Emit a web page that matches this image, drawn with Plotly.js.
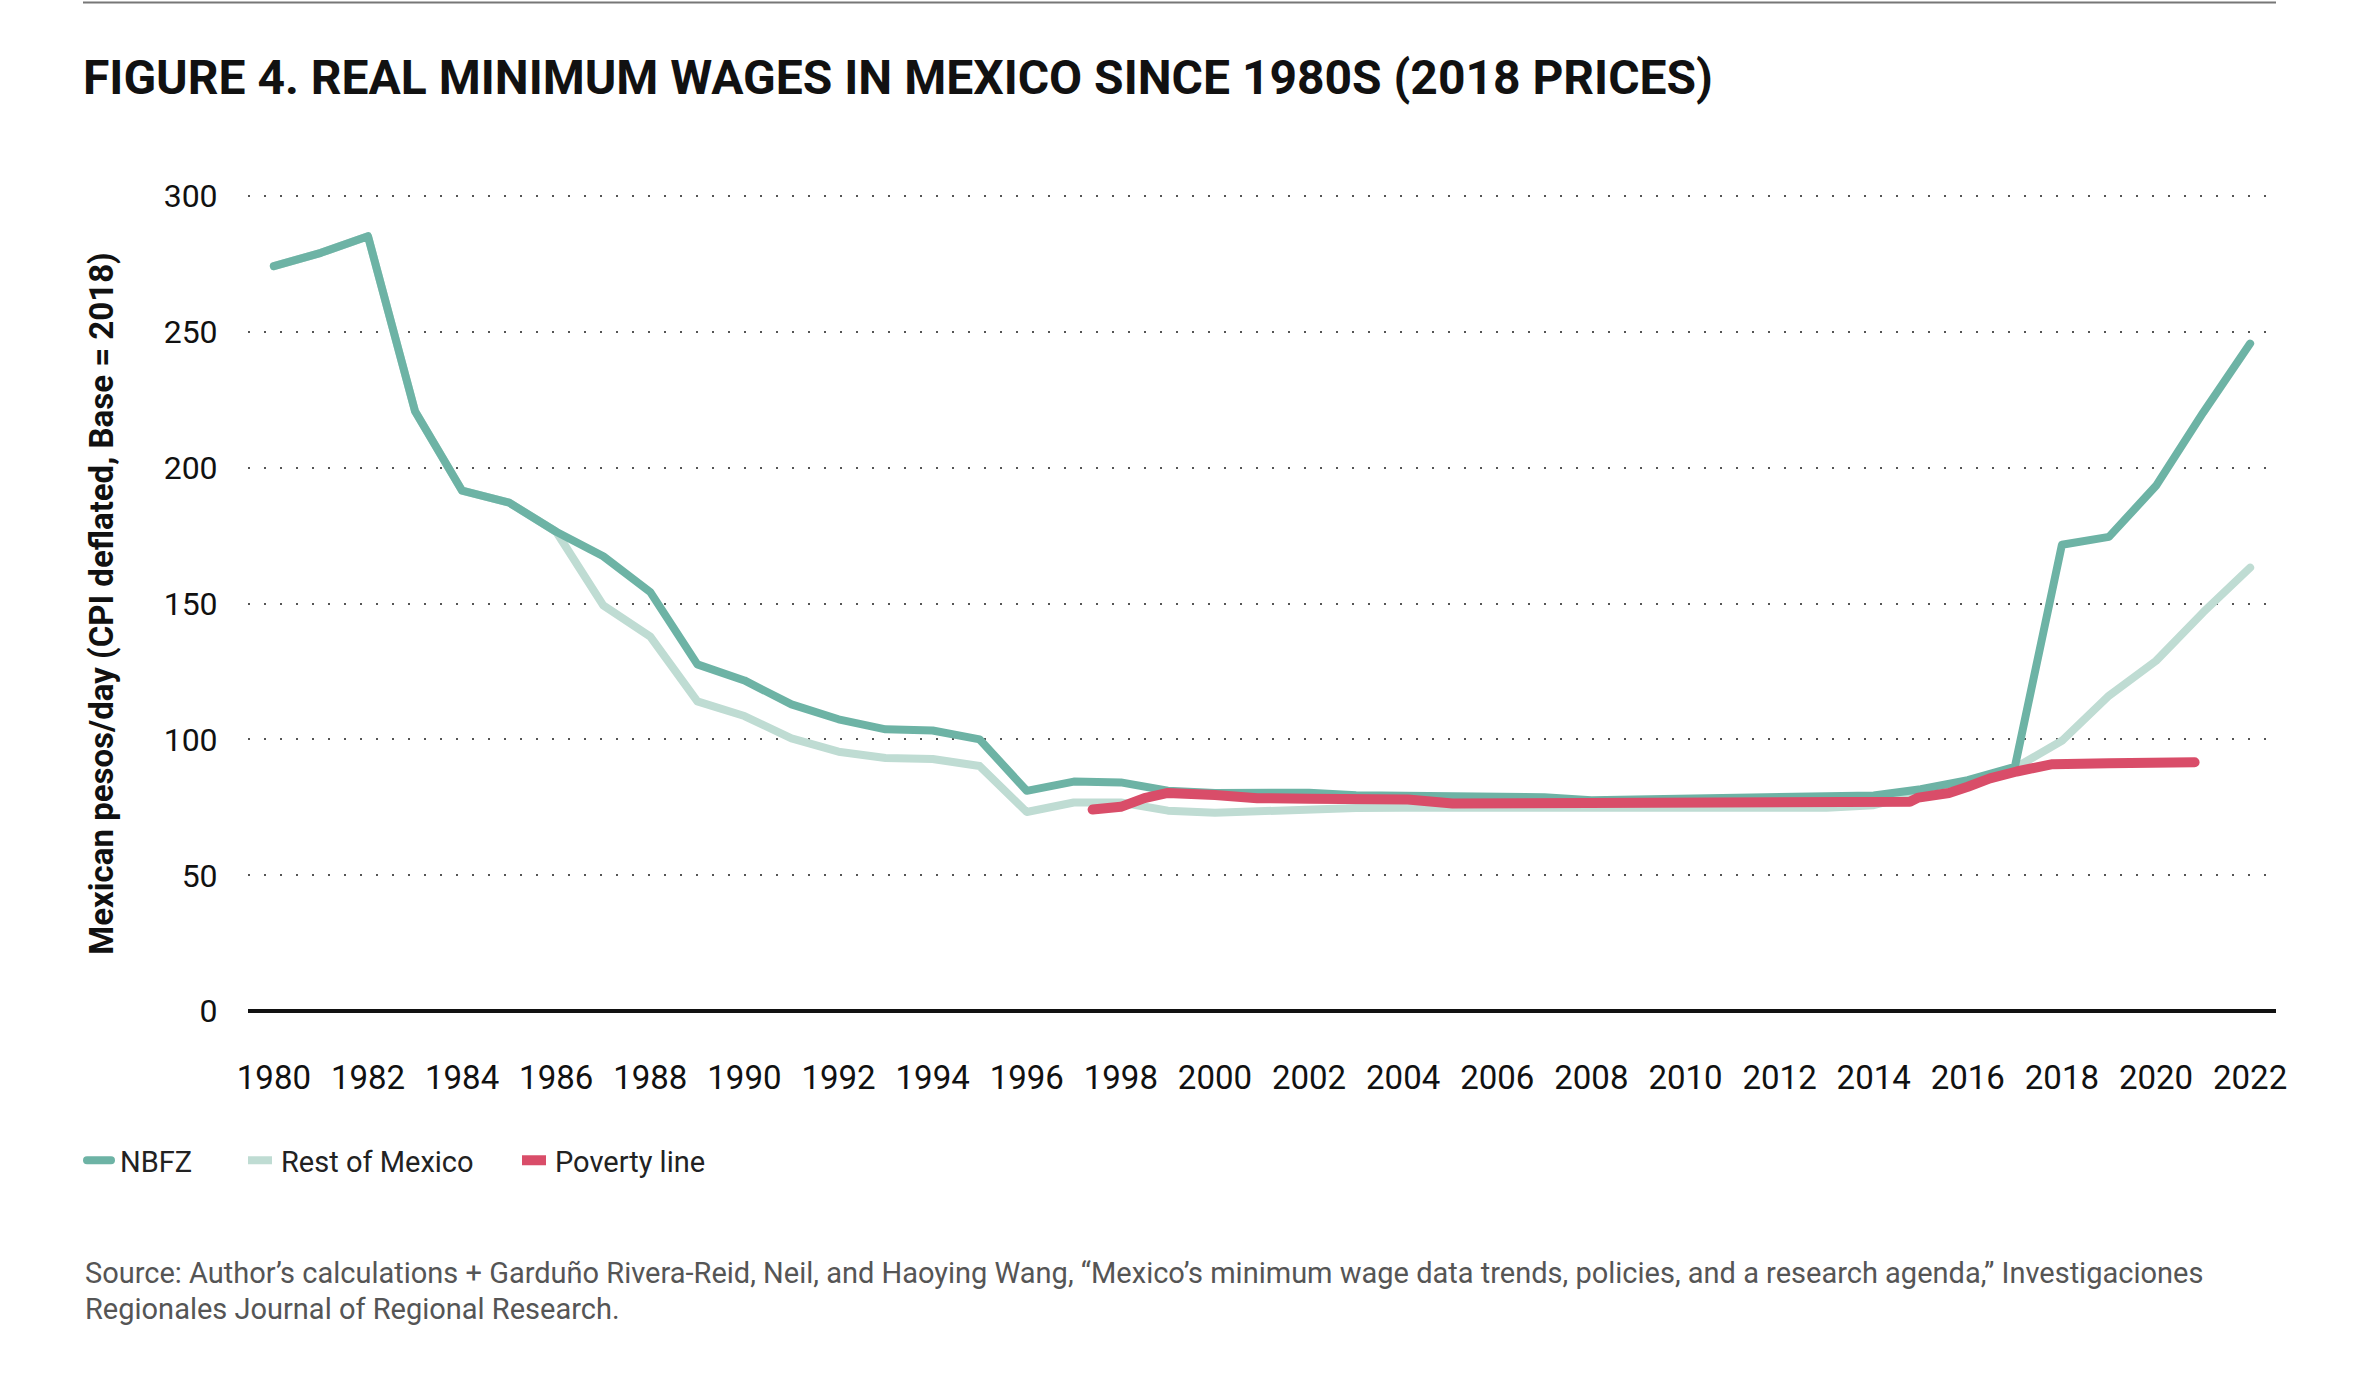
<!DOCTYPE html>
<html>
<head>
<meta charset="utf-8">
<script src="https://cdn.plot.ly/plotly-3.0.1.min.js"></script>
<style>
  html, body { margin: 0; padding: 0; background: #ffffff; }
  #chart { width: 2360px; height: 1378px; }
  .scatterlayer path.js-line, .legend path.js-line { stroke-linecap: round; stroke-linejoin: round; }
  .legendlines path.js-line { d: path("M7,0h24"); }
</style>
</head>
<body>
<div id="chart"></div>
<script>
// ---- Data ----
const years = [1980,1981,1982,1983,1984,1985,1986,1987,1988,1989,1990,1991,1992,1993,1994,1995,1996,1997,1998,1999,2000,2001,2002,2003,2004,2005,2006,2007,2008,2009,2010,2011,2012,2013,2014,2015,2016,2017,2018,2019,2020,2021,2022];

const nbfz = [274.1,279.0,285.1,220.7,191.5,187.1,176.4,167.4,154.2,127.6,121.7,112.9,107.4,103.7,103.3,100.0,81.1,84.5,84.2,81.1,80.3,80.2,80.4,79.5,79.3,78.8,78.6,78.7,77.6,77.9,78.3,78.4,78.7,78.5,79.4,81.7,85.0,89.9,171.6,174.5,193.3,220.2,245.6];

const restOfMexico = [274.1,279.0,285.1,220.7,191.5,187.1,176.4,149.3,137.8,114.0,108.6,100.4,95.5,93.2,92.8,90.2,73.3,76.8,76.8,73.8,73.0,73.6,74.6,74.8,74.9,74.9,74.9,75.0,74.6,74.7,74.8,74.9,75.1,74.9,75.8,80.0,84.5,89.5,99.5,116.1,128.9,146.7,163.2];

const povertyYears = [1997.4,1998.0,1998.5,1999.0,2000.0,2000.9,2002.0,2003.0,2004.1,2005.05,2007.0,2009.2,2012.3,2014.77,2014.95,2015.6,2016.0,2016.47,2017.04,2017.7,2017.8,2019.0,2020.82];
const povertyLine = [74.2,75.2,78.4,80.3,79.6,78.4,78.2,78.1,77.9,76.4,76.4,76.4,76.7,77.1,78.6,80.3,82.6,85.7,88.2,89.9,90.9,91.2,91.6];

const xTickVals = [1980,1982,1984,1986,1988,1990,1992,1994,1996,1998,2000,2002,2004,2006,2008,2010,2012,2014,2016,2018,2020,2022];
const xTickText = xTickVals.map(String);
const yTickVals = [0,50,100,150,200,250,300];

const seriesNames = ["NBFZ", "Rest of Mexico", "Poverty line"];
const seriesColors = ["#6db3a5", "#bfdcd3", "#d94d69"];

const titleText = "FIGURE 4. REAL MINIMUM WAGES IN MEXICO SINCE 1980S (2018 PRICES)";
const yTitleText = "Mexican pesos/day (CPI deflated, Base = 2018)";
const sourceLines = [
  "Source: Author’s calculations + Garduño Rivera-Reid, Neil, and Haoying Wang, “Mexico’s minimum wage data trends, policies, and a research agenda,” Investigaciones",
  "Regionales Journal of Regional Research."
];

// ---- Traces ----
const traces = [
  {
    x: years, y: restOfMexico, name: seriesNames[1], type: "scatter", mode: "lines",
    line: { color: seriesColors[1], width: 8 }, legend: "legend2", hoverinfo: "skip"
  },
  {
    x: years, y: nbfz, name: seriesNames[0], type: "scatter", mode: "lines",
    line: { color: seriesColors[0], width: 8 }, legend: "legend", hoverinfo: "skip"
  },
  {
    x: povertyYears, y: povertyLine, name: seriesNames[2], type: "scatter", mode: "lines",
    line: { color: seriesColors[2], width: 10 }, legend: "legend3", hoverinfo: "skip"
  }
];

const font = "Roboto, 'Noto Sans', sans-serif";

// plot area in pixels: left 248, right 2276, top 193.3, bottom 1013.7
const PL = 248, PW = 2028, PB = 1013.7, PH = 820.4;
const px2x = (px) => (px - PL) / PW;
const px2y = (py) => (PB - py) / PH;

function legendAt(textStartPx) {
  return {
    orientation: "h",
    x: px2x(textStartPx - 40), xanchor: "left",
    y: px2y(1160), yanchor: "middle",
    font: { family: font, size: 29, color: "#222222" },
    itemwidth: 30,
    bgcolor: "rgba(0,0,0,0)"
  };
}

const layout = {
  width: 2360, height: 1378,
  paper_bgcolor: "#ffffff", plot_bgcolor: "#ffffff",
  margin: { l: 248, r: 84, t: 193, b: 364, pad: 0 },
  font: { family: font, color: "#222222", size: 28 },
  title: {
    text: titleText,
    font: { family: font, size: 48, weight: 700, color: "#111111" },
    xref: "container", x: 83 / 2360, xanchor: "left",
    yref: "container", y: 1 - 77 / 1378, yanchor: "middle"
  },
  xaxis: {
    range: [1979.45, 2022.55],
    tickmode: "array", tickvals: xTickVals, ticktext: xTickText,
    showgrid: false, zeroline: false, showline: false,
    ticks: "outside", ticklen: 34, tickcolor: "rgba(0,0,0,0)",
    tickfont: { family: font, size: 33, color: "#111111" },
    fixedrange: true
  },
  yaxis: {
    range: [-1, 301],
    tickmode: "array", tickvals: yTickVals,
    showgrid: true, gridcolor: "#555555", gridwidth: 2, griddash: "2px,14px",
    zeroline: true, zerolinecolor: "#111111", zerolinewidth: 4,
    showline: false,
    ticks: "outside", ticklen: 23, tickcolor: "rgba(0,0,0,0)",
    tickfont: { family: font, size: 32, color: "#111111" },
    title: {
      text: yTitleText,
      font: { family: font, size: 33, weight: 700, color: "#111111" },
      standoff: 40
    },
    fixedrange: true
  },
  showlegend: true,
  legend: legendAt(120),
  legend2: legendAt(281),
  legend3: legendAt(555),
  annotations: sourceLines.map((t, i) => ({
    text: t,
    xref: "paper", yref: "paper",
    x: px2x(83), xanchor: "left",
    y: px2y(1273 + i * 35), yanchor: "middle",
    align: "left", showarrow: false,
    font: { family: font, size: 29, color: "#555555" }
  })),
  shapes: [
    {
      type: "line", xref: "paper", yref: "paper",
      x0: px2x(83), x1: 1.0,
      y0: px2y(3), y1: px2y(3),
      line: { color: "#777777", width: 2 }
    }
  ]
};

Plotly.newPlot("chart", traces, layout, { staticPlot: true, displayModeBar: false });
</script>
</body>
</html>
